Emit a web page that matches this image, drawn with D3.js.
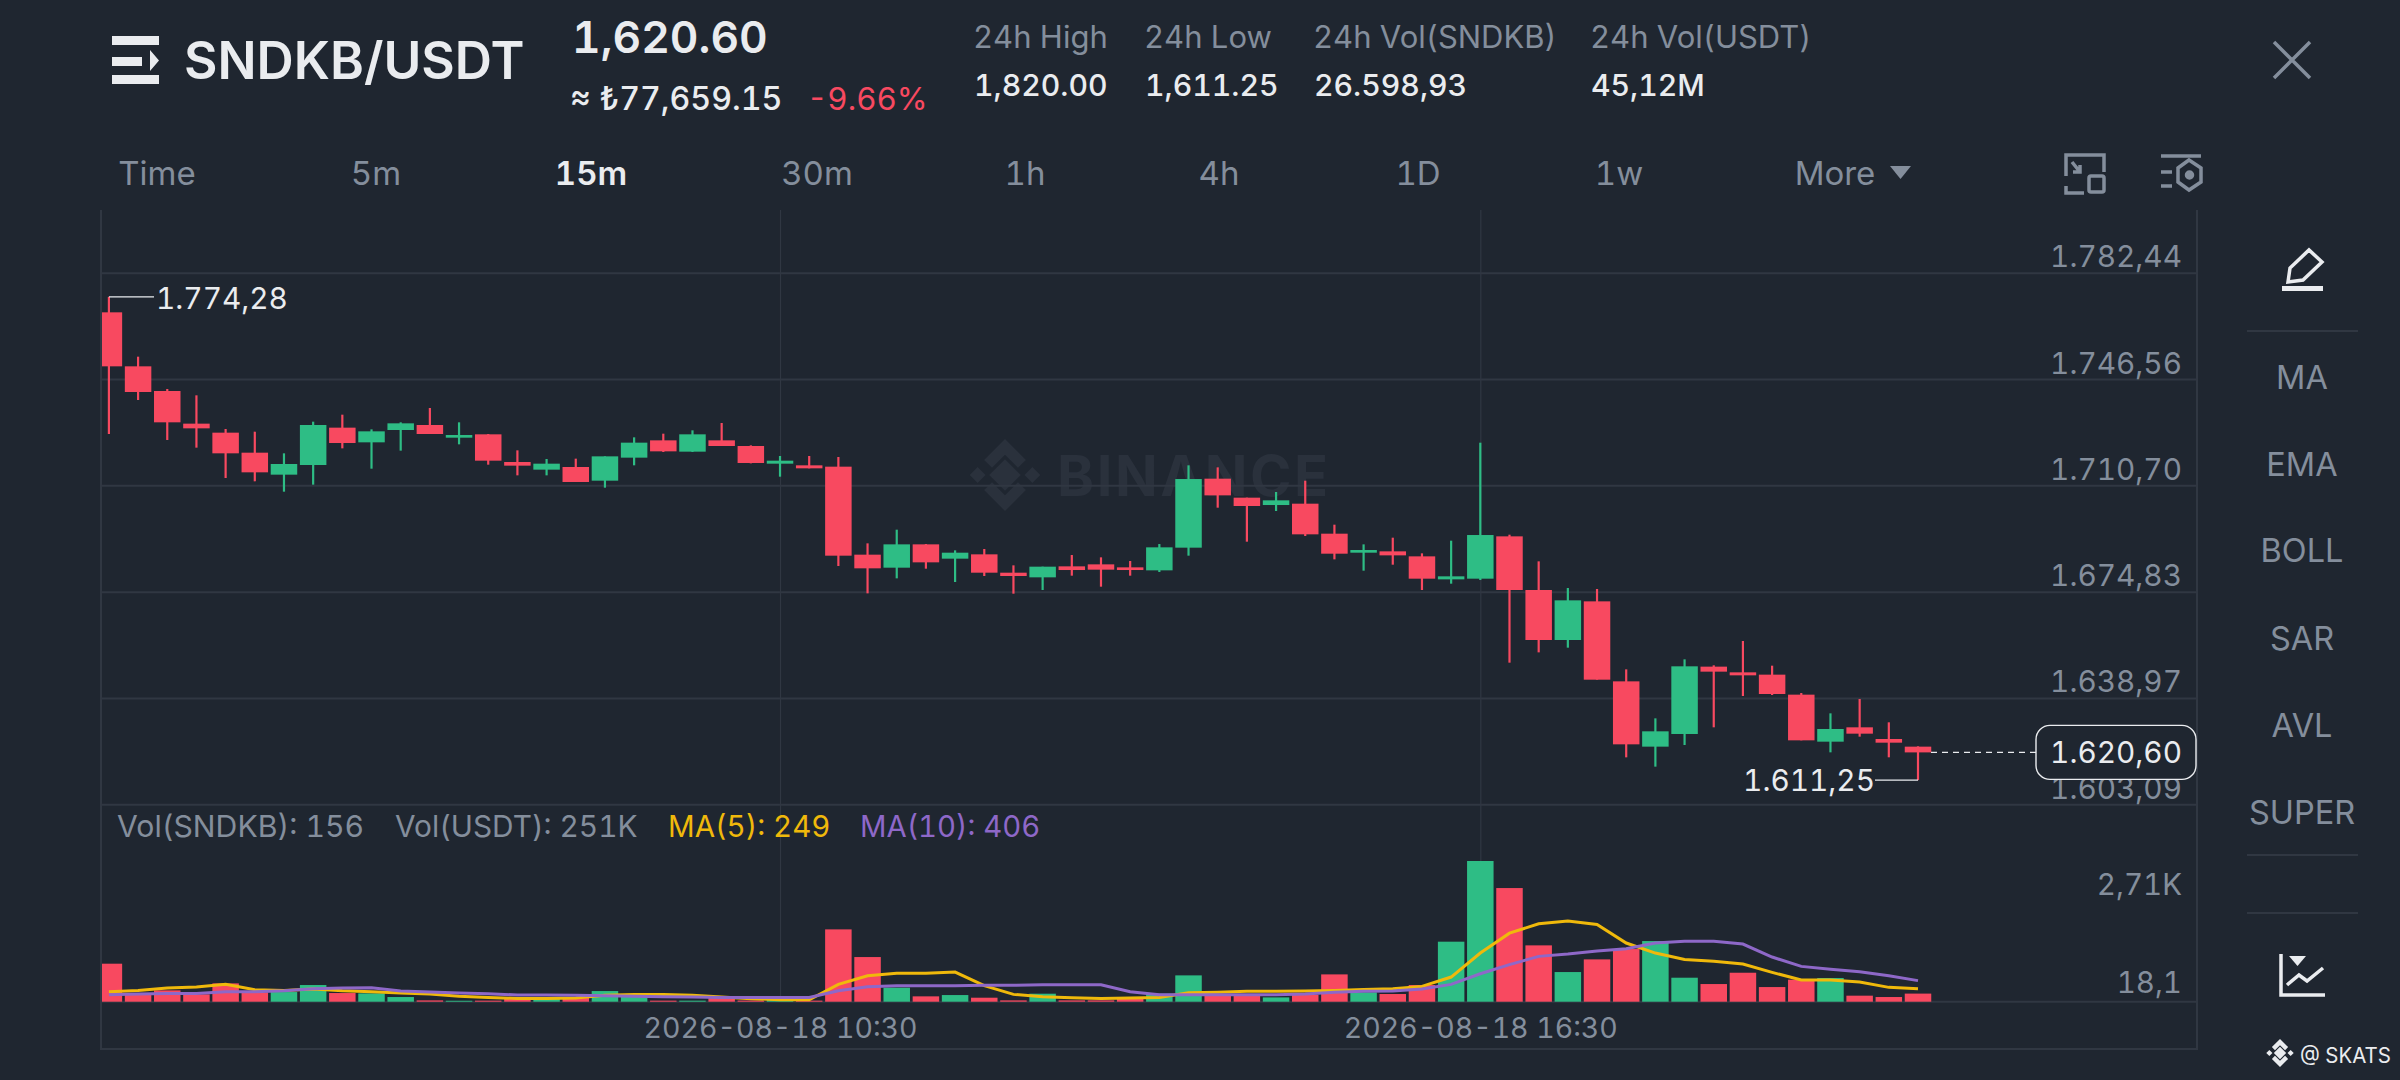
<!DOCTYPE html>
<html>
<head>
<meta charset="utf-8">
<title>SNDKB/USDT</title>
<script src="https://cdn.jsdelivr.net/npm/d3@7"></script>
<style>
  html, body { margin: 0; padding: 0; background: #1f2630; }
  text { font-family: Inter, "Noto Sans", sans-serif; font-variant-numeric: tabular-nums; }
</style>
</head>
<body>
<div id="chart"></div>
<script>
// Candle values
const opens = [1769.07,1750.85,1742.53,1731.51,1728.47,1721.72,1714.30,1717.56,1730.16,1725.21,1729.37,1731.06,1726.78,1727.91,1718.57,1715.99,1716.89,1712.27,1720.04,1725.88,1722.06,1725.88,1723.97,1718.01,1717.45,1717.00,1687.31,1682.92,1690.79,1685.96,1687.42,1681.23,1679.66,1683.37,1684.04,1683.03,1682.02,1689.67,1712.95,1706.54,1704.06,1704.51,1694.39,1687.98,1688.43,1686.74,1678.98,1679.21,1693.49,1675.39,1658.52,1671.56,1644.57,1622.54,1626.81,1649.53,1647.61,1646.83,1640.08,1624.22,1629.06,1625.12,1622.54];
const closes = [1750.85,1742.19,1731.96,1729.93,1721.50,1715.09,1717.90,1731.06,1724.98,1728.92,1731.62,1728.02,1727.68,1719.02,1717.34,1718.01,1711.83,1720.48,1725.10,1722.17,1727.91,1723.97,1718.24,1719.02,1716.44,1686.97,1682.70,1690.79,1684.72,1687.98,1681.23,1680.11,1683.26,1682.13,1682.25,1682.13,1689.78,1712.83,1707.32,1703.73,1705.64,1694.17,1687.64,1688.88,1687.08,1679.21,1680.00,1693.94,1675.39,1658.52,1671.90,1645.13,1623.32,1627.71,1649.64,1647.84,1646.60,1640.30,1624.67,1628.50,1626.92,1623.88,1620.60];
const highs = [1774.28,1754.11,1743.20,1741.07,1729.71,1728.81,1721.50,1732.18,1734.54,1729.59,1731.96,1736.79,1731.96,1728.02,1722.51,1719.59,1719.70,1720.48,1726.90,1728.13,1729.26,1731.73,1724.20,1720.60,1720.60,1720.26,1691.13,1695.74,1690.90,1688.77,1689.22,1683.71,1683.26,1687.19,1686.41,1685.17,1690.90,1717.45,1716.77,1706.54,1708.45,1712.27,1697.43,1690.79,1693.04,1687.76,1692.03,1725.09,1694.05,1685.06,1676.06,1675.72,1648.62,1632.09,1652.00,1649.98,1658.19,1649.86,1640.64,1633.78,1638.62,1630.75,1622.65];
const lows = [1728.02,1739.49,1726.00,1723.41,1713.17,1712.05,1708.56,1710.93,1723.18,1716.32,1722.40,1728.02,1724.53,1717.67,1714.07,1714.07,1711.83,1709.91,1717.45,1721.95,1721.95,1723.97,1718.12,1713.62,1716.44,1683.49,1674.26,1679.32,1682.58,1678.08,1680.11,1674.15,1675.39,1680.22,1676.51,1680.22,1681.46,1686.97,1703.16,1691.69,1702.04,1693.60,1685.73,1681.91,1683.93,1675.39,1677.52,1678.76,1650.87,1654.35,1655.93,1645.13,1618.93,1615.79,1623.10,1629.06,1639.63,1639.97,1624.67,1620.62,1625.91,1618.94,1611.25];

// Volume pane
const volumes = [732,141,218,141,353,180,186,321,167,160,90,25,18.1,20,65,70,75,205,110,20,20,70,22,38,20,1393,860,270,103,128,77,25,154,25,25,70,154,507,135,115,83,135,526,180,148,321,1156,2710,2189,1085,571,815,1014,1168,462,340,558,282,424,456,116,90,156];
const ma5 = [193,218,263,282,334,231,218,244,212,193,167,148,103,83,64,64,71,122,141,141,122,90,58,38,38,334,500,546,546,571,308,141,96,77,64,71,83,173,180,199,199,205,218,237,250,295,475,937,1320,1502,1554,1489,1130,937,815,777,725,565,417,417,379,276,249];
const ma10 = [135,148,160,160,193,193,212,250,263,270,205,186,167,154,128,128,122,116,103,96,90,83,83,83,83,212,289,308,308,308,315,315,327,327,327,193,135,135,135,135,135,148,180,199,205,244,334,539,713,873,918,976,1021,1130,1162,1162,1111,860,680,623,578,501,406];

// Axis ticks
const priceTicks = [1782.44,1746.56,1710.70,1674.83,1638.97,1603.09];
const volTicks = [2710,18.1];
const timeTickIndex = [23,47];
const timeTickLabels = ["2026-08-18 10:30","2026-08-18 16:30"];

// Header and side panel texts
const tabLabels = ["Time","5m","15m","30m","1h","4h","1D","1w","More"];
const statLabels = ["24h High","24h Low","24h Vol(SNDKB)","24h Vol(USDT)"];
const statValues = ["1,820.00","1,611.25","26.598,93","45,12M"];
const sideLabels = ["MA","EMA","BOLL","SAR","AVL","SUPER"];
const lastPrice = 1620.60;

// Layout
const W = 2400, H = 1080;
const frame = {left: 101, right: 2197, top: 210, bottom: 1049};
const tabX = [157,376,591,817,1025,1219,1418,1619,1835];
const statX = [973,1144,1313,1590];
const sideY = [389,476,562,650,737,824];

const bg = "#1f2630", grid = "#303742", gray = "#848e9c", white = "#eaecef";
const red = "#f84960", green = "#2ebd85", yellow = "#f0b90b", purple = "#8e68c8";

const loc = d3.formatLocale({decimal: ",", thousands: ".", grouping: [3], currency: ["", ""]});
const fmtPrice = loc.format(",.2f");
const fmtVol = d => d >= 1000 ? loc.format(".2f")(d / 1000) + "K" : loc.format(".1f")(d);

const svg = d3.select("#chart").append("svg")
    .attr("width", W)
    .attr("height", H)
    .style("display", "block");

svg.append("rect").attr("width", W).attr("height", H).attr("fill", bg);

// Scales
const idx = d3.range(opens.length);
const x = d3.scaleLinear().domain([0, 62]).range([108.9, 1918]);
const y = d3.scaleLinear().domain([1603.09, 1782.44]).range([804.3, 272.7]);
const yVol = d3.scaleLinear().domain([0, 2710]).range([1001.7, 861]);
const barW = 26.5;

// Binance mark, shared by the chart watermark and the footer
function binanceMark(g, s, fill) {
  const d = (cx, cy, r) => `M${cx},${cy - r}L${cx + r},${cy}L${cx},${cy + r}L${cx - r},${cy}Z`;
  g.append("path").attr("fill", fill)
    .attr("d", d(0, 0, 0.22 * s) + d(-0.38 * s, 0, 0.11 * s) + d(0.38 * s, 0, 0.11 * s)
      + `M0,${-0.5 * s}L${0.29 * s},${-0.21 * s}L${0.18 * s},${-0.1 * s}L0,${-0.28 * s}L${-0.18 * s},${-0.1 * s}L${-0.29 * s},${-0.21 * s}Z`
      + `M0,${0.5 * s}L${0.29 * s},${0.21 * s}L${0.18 * s},${0.1 * s}L0,${0.28 * s}L${-0.18 * s},${0.1 * s}L${-0.29 * s},${0.21 * s}Z`);
}

// Watermark
const wm = svg.append("g");
binanceMark(wm.append("g").attr("transform", "translate(1005,475)"), 72, "#2a313c");
wm.append("text").attr("x", 1057).attr("y", 496).attr("font-size", 56).attr("font-weight", 700)
    .attr("textLength", 271).attr("fill", "#2a313c").text("BINANCE");

// Frame
const frameG = svg.append("g").attr("stroke", grid).attr("fill", "none");
frameG.append("path").attr("stroke-width", 2)
    .attr("d", `M${frame.left},${frame.top}V${frame.bottom}H${frame.right}V${frame.top}`);

// Price axis with its grid lines
const priceAxis = svg.append("g")
    .attr("transform", `translate(${frame.right},0)`)
    .call(d3.axisLeft(y).tickValues(priceTicks).tickFormat(fmtPrice).tickSize(frame.right - frame.left));
priceAxis.select(".domain").remove();
priceAxis.selectAll("line").attr("stroke", grid).attr("stroke-width", 2);
priceAxis.selectAll("text")
    .attr("x", -15).attr("dy", 0).attr("y", -6)
    .attr("text-anchor", "end").attr("font-size", 29.8)
    .style("font-family", "Inter").attr("fill", gray);

// Time axis: the ticks run up as the vertical grid lines
const timeAxis = svg.append("g")
    .attr("transform", `translate(0,${yVol(0)})`)
    .call(d3.axisBottom(x).tickValues(timeTickIndex)
      .tickFormat(d => timeTickLabels[timeTickIndex.indexOf(d)])
      .tickSize(frame.top - yVol(0)));
timeAxis.select(".domain").remove();
timeAxis.selectAll("line").attr("stroke", grid).attr("stroke-width", 1.2);
timeAxis.selectAll("text")
    .attr("y", 36).attr("dy", 0)
    .attr("font-size", 28.5).style("font-family", "Inter").attr("fill", gray);

svg.append("line")
    .attr("x1", frame.left).attr("x2", frame.right)
    .attr("y1", yVol(0)).attr("y2", yVol(0))
    .attr("stroke", grid).attr("stroke-width", 2);

// Clip on the left border, the first candle is cut by it
svg.append("clipPath").attr("id", "plot").append("rect")
    .attr("x", frame.left + 1).attr("y", frame.top)
    .attr("width", frame.right - frame.left).attr("height", frame.bottom - frame.top);

const colorOf = i => closes[i] >= opens[i] ? green : red;

// Candles
const candles = svg.append("g").attr("clip-path", "url(#plot)")
  .selectAll("g").data(idx).join("g");
candles.append("line")
    .attr("x1", i => x(i)).attr("x2", i => x(i))
    .attr("y1", i => y(highs[i])).attr("y2", i => y(lows[i]))
    .attr("stroke", colorOf).attr("stroke-width", 2.2);
candles.append("rect")
    .attr("x", i => x(i) - barW / 2)
    .attr("width", barW)
    .attr("y", i => y(Math.max(opens[i], closes[i])))
    .attr("height", i => Math.max(2, Math.abs(y(opens[i]) - y(closes[i]))))
    .attr("fill", colorOf);

// Volume bars
svg.append("g").attr("clip-path", "url(#plot)")
  .selectAll("rect").data(idx).join("rect")
    .attr("x", i => x(i) - barW / 2)
    .attr("width", barW)
    .attr("y", i => yVol(volumes[i]))
    .attr("height", i => yVol(0) - yVol(volumes[i]))
    .attr("fill", colorOf);

// Moving averages
const line = d3.line().x((d, i) => x(i)).y(d => yVol(d));
svg.append("path").datum(ma5).attr("d", line)
    .attr("fill", "none").attr("stroke", yellow).attr("stroke-width", 3);
svg.append("path").datum(ma10).attr("d", line)
    .attr("fill", "none").attr("stroke", purple).attr("stroke-width", 3);

// Volume axis, labels only
const volAxis = svg.append("g")
    .attr("transform", `translate(${frame.right},0)`)
    .call(d3.axisLeft(yVol).tickValues(volTicks).tickFormat(fmtVol).tickSize(0));
volAxis.select(".domain").remove();
volAxis.selectAll("text")
    .attr("x", -15).attr("dy", 0)
    .attr("y", d => d === 2710 ? 33 : -8)
    .attr("text-anchor", "end").attr("font-size", 29.5)
    .style("font-family", "Inter").attr("fill", gray);

// Generic text helper
function label(txt, px, py, size, fill, weight, anchor) {
  return svg.append("text").attr("x", px).attr("y", py)
      .attr("font-size", size).attr("fill", fill)
      .attr("font-weight", weight || 400)
      .attr("text-anchor", anchor || "start").text(txt);
}

// High and low callouts
svg.append("line").attr("x1", x(0)).attr("x2", 154)
    .attr("y1", y(d3.max(highs))).attr("y2", y(d3.max(highs)))
    .attr("stroke", white).attr("stroke-width", 1.2);
label(fmtPrice(d3.max(highs)), 156, y(d3.max(highs)) + 12, 29.8, white);
svg.append("line").attr("x1", 1875).attr("x2", x(62))
    .attr("y1", y(d3.min(lows))).attr("y2", y(d3.min(lows)))
    .attr("stroke", white).attr("stroke-width", 1.2);
label(fmtPrice(d3.min(lows)), 1875, y(d3.min(lows)) + 11, 29.8, white, 400, "end");

// Last price tag
svg.append("line").attr("x1", x(62) + 13).attr("x2", 2036)
    .attr("y1", y(lastPrice)).attr("y2", y(lastPrice))
    .attr("stroke", white).attr("stroke-width", 1.2).attr("stroke-dasharray", "6,5");
svg.append("rect").attr("x", 2036).attr("y", y(lastPrice) - 27)
    .attr("width", 160).attr("height", 54).attr("rx", 14)
    .attr("fill", bg).attr("stroke", white).attr("stroke-width", 1.4);
label(fmtPrice(lastPrice), 2182, y(lastPrice) + 11, 29.8, white, 400, "end");

// Volume legend
label("Vol(SNDKB): 156", 117, 837, 30.2, gray);
label("Vol(USDT): 251K", 395, 837, 29.8, gray);
label("MA(5): 249", 668, 837, 29.5, yellow);
label("MA(10): 406", 860, 837, 29.3, purple);

// Header
const menu = svg.append("g").attr("fill", white);
menu.append("path").attr("d", "M112,36H159V45H112ZM112,57H142V66H112ZM112,75H159V84H112ZM150,50L159,60.5L150,71Z");
label("SNDKB/USDT", 184, 79, 51.5, white, 600);
label("1,620.60", 572, 53, 44.3, white, 600);
label("≈ ₺77,659.15", 570, 110, 32.2, white, 500);
label("-9.66%", 807, 110, 31.4, red);
statLabels.forEach((s, i) => {
  label(s, statX[i], 48, 31, gray);
  label(statValues[i], statX[i] + 1, 96, 30.2, white, 500);
});

// Interval tabs
tabLabels.forEach((t, i) => {
  const active = t === "15m";
  label(t, tabX[i], 185, 33, active ? white : gray, active ? 600 : 400, "middle");
});
svg.append("path").attr("fill", gray).attr("d", "M1890,166H1911L1900.5,179Z");

// Close button
svg.append("path").attr("fill", "none").attr("stroke", gray).attr("stroke-width", 3.5)
    .attr("d", "M2274,42L2310,78M2310,42L2274,78");

// Toolbar icons
const tools = svg.append("g").attr("fill", "none").attr("stroke", gray).attr("stroke-width", 3.5);
tools.append("path").attr("d", "M2066,176V155H2104V172M2084,193H2066V186M2072,162L2080,172M2080,165V172H2073");
tools.append("rect").attr("x", 2089).attr("y", 176).attr("width", 15).attr("height", 16).attr("rx", 2);
tools.append("path").attr("d", "M2161,156H2201M2161,172H2172M2161,186H2172");
tools.append("path").attr("d", "M2189,160L2201,168V182L2189,190L2178,182V168Z");
tools.append("circle").attr("cx", 2189.5).attr("cy", 175).attr("r", 3).attr("fill", gray);

// Side panel
svg.append("path").attr("fill", "none").attr("stroke", white).attr("stroke-width", 3.5)
    .attr("d", "M2288,282L2290,268L2309,250L2322,262L2303,280Z");
svg.append("rect").attr("x", 2282).attr("y", 286).attr("width", 41).attr("height", 5).attr("fill", white);
[331, 855, 913].forEach(py => {
  svg.append("line").attr("x1", 2247).attr("x2", 2358).attr("y1", py).attr("y2", py)
      .attr("stroke", grid).attr("stroke-width", 2);
});
sideLabels.forEach((s, i) => label(s, 2302, sideY[i], 32.5, gray, 400, "middle"));

svg.append("path").attr("fill", "none").attr("stroke", white).attr("stroke-width", 3.5)
    .attr("d", "M2281,954V995H2325M2287,985L2299,975L2307,981L2323,968");
svg.append("path").attr("fill", white).attr("d", "M2289,956H2306L2297.5,966Z");

// Footer credit
binanceMark(svg.append("g").attr("transform", "translate(2280,1053)"), 28, white);
label("@ SKATS", 2300, 1063, 22, white).attr("textLength", 91).attr("lengthAdjust", "spacingAndGlyphs");
</script>
</body>
</html>
